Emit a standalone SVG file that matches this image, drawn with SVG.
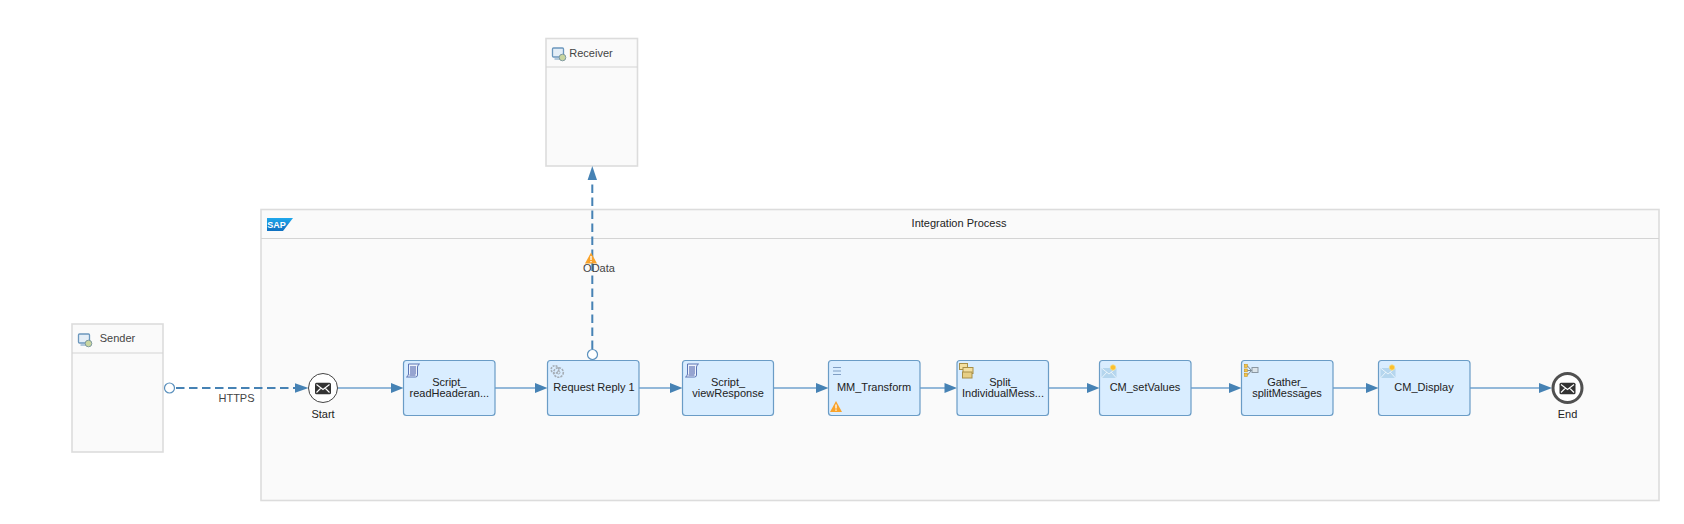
<svg xmlns="http://www.w3.org/2000/svg" width="1684" height="524" viewBox="0 0 1684 524">
<style>
text{font-family:"Liberation Sans",Arial,sans-serif;font-size:11px;fill:#222;text-anchor:middle}
.pool{fill:#fafafa;stroke:#dcdcdc;stroke-width:1.6}
.hdr{stroke:#d4d4d4;stroke-width:1.2;fill:none}
.task{fill:#d9edff;stroke:#6a9cc6;stroke-width:1.2}
.flow{stroke:#93b8d9;stroke-width:1.8;fill:none}
.msg{stroke:#4682b4;stroke-width:2;stroke-dasharray:8.500 4.500;fill:none}
.head{fill:#4682b4}
.port{fill:#fff;stroke:#5a90bd;stroke-width:1.200}
.lbl{fill:#444}
.warnt{fill:#f9a32b}
</style>
<defs>
<linearGradient id="sapg" x1="0" y1="0" x2="0" y2="1"><stop offset="0" stop-color="#1fa8ec"/><stop offset="1" stop-color="#0f6fc0"/></linearGradient>
<g id="sys"><rect x="0" y="0" width="11" height="9" rx="1" fill="#e4eef7" stroke="#6b97bd" stroke-width="1.300"/><path d="M2 11h6" stroke="#6b97bd" stroke-width="1"/><circle cx="10" cy="9.500" r="3.300" fill="#c9d6a0" stroke="#7f9a9f"/></g>
<g id="scroll"><path d="M3 1h11q-2 1-2 3v8q0 2-2 2H1q2-1 2-3z" fill="#eef3fb" stroke="#5b74b5"/><path d="M4.500 4h6M4.500 6h6M4.500 8h6M4.500 10h6M4 12h6" stroke="#3e55a5" stroke-width="1"/></g>
<g id="cm"><rect x="0" y="4" width="15" height="10" fill="#b5d6ee"/><path d="M0 4l7.500 6 7.500-6M0 14l5.500-6M15 14l-5.500-6" stroke="#e9f4fb" stroke-width="1" fill="none"/><circle cx="11.500" cy="3.500" r="2.700" fill="#fbc02d" stroke="#f5e08a" stroke-width=".8"/></g>
<g id="warn"><path d="M6 0l6 11H0z" class="warnt"/><path d="M6 3.500v4M6 8.500v1.300" stroke="#fff" stroke-width="1.300"/></g>
<g id="mail"><rect x="-8" y="-5.700" width="16" height="11.400" rx="1.500" fill="#333"/><path d="M-6.500-4L0 1 6.500-4M-6.500 4l4.500-4.500M6.500 4L2-.5" stroke="#fff" stroke-width="1.100" fill="none"/></g>
</defs>

<g id="process"><rect class="pool" x="261" y="209.500" width="1398" height="291"/><path class="hdr" d="M261 238.500H1659"/>
<path d="M267 218h26l-10 13h-16z" fill="url(#sapg)"/><text x="276.500" y="228.300" style="font-size:9px;font-weight:bold;fill:#fff">SAP</text>
<text x="959" y="227">Integration Process</text></g>

<g id="sender"><rect class="pool" x="72" y="324" width="91" height="128"/><path class="hdr" d="M72 353H163"/><use href="#sys" x="78.500" y="334"/><text x="117.500" y="342" class="lbl">Sender</text></g>
<g id="receiver"><rect class="pool" x="546" y="38.500" width="91.500" height="127.500"/><path class="hdr" d="M546 67H637.500"/><use href="#sys" x="552.500" y="48"/><text x="591" y="57" class="lbl">Receiver</text></g>

<g id="connectors">
<path class="msg" d="M176 388H296"/><path class="head" d="M295 383.300L308.500 388 295 392.700z"/>
<path class="msg" d="M592.300 349V180"/><path class="head" d="M592.300 166l4.700 14h-9.400z"/>
<path class="flow" d="M338 388H392M495 388H536M639 388H671M774 388H816M920 388H945M1049 388H1087M1191 388H1229M1333 388H1366M1470 388H1540"/>
<path class="head" d="M391 383L403.500 388 391 393zM535 383L547.500 388 535 393zM670 383L682.500 388 670 393zM816 383L828.500 388 816 393zM944.500 383L957 388 944.500 393zM1087 383L1099.500 388 1087 393zM1229 383L1241.500 388 1229 393zM1366 383L1378.500 388 1366 393zM1539 383L1552 388 1539 393z"/>
<circle class="port" cx="169.500" cy="388" r="5"/><circle class="port" cx="592.500" cy="354.500" r="5"/>
<use href="#warn" x="585" y="252.500"/>
<text x="599" y="272" class="lbl">OData</text>
<text x="236.500" y="402" class="lbl">HTTPS</text>
</g>

<g id="start"><circle cx="323" cy="388" r="14.500" fill="#fff" stroke="#444" stroke-width="1"/><use href="#mail" x="323" y="388.500"/><text x="323" y="418">Start</text></g>
<g id="script1"><rect class="task" x="403.500" y="360.500" width="91.500" height="55" rx="3"/><use href="#scroll" x="405.500" y="363"/><text x="449.300" y="385.500">Script_</text><text x="449.300" y="396.500">readHeaderan...</text></g>
<g id="reqreply"><rect class="task" x="547.500" y="360.500" width="91.500" height="55" rx="3"/><g fill="none" stroke="#a5adb5" stroke-width="1.600"><circle cx="555" cy="369.500" r="3.800" stroke-dasharray="2 1"/><circle cx="558.500" cy="372.500" r="4.800" stroke-dasharray="2.200 1"/></g><circle cx="558.500" cy="372.500" r="1.500" fill="none" stroke="#a5adb5"/><text x="594" y="391">Request Reply 1</text></g>
<g id="script2"><rect class="task" x="682.500" y="360.500" width="91" height="55" rx="3"/><use href="#scroll" x="684.500" y="363"/><text x="728" y="385.500">Script_</text><text x="728" y="396.500">viewResponse</text></g>
<g id="mm"><rect class="task" x="828.500" y="360.500" width="91.500" height="55" rx="3"/><path d="M833 367.500h8M833 371h8M833 374.500h8" stroke="#7f9ec4" stroke-width="1.200"/><use href="#warn" x="830" y="401"/><text x="874" y="391">MM_Transform</text></g>
<g id="split"><rect class="task" x="957" y="360.500" width="91.500" height="55" rx="3"/><rect x="959.500" y="363.500" width="8" height="6" fill="#f3dfa0" stroke="#a78f48"/><rect x="963" y="367.500" width="10" height="6" fill="#f3dfa0" stroke="#a78f48"/><rect x="962.500" y="372" width="9.500" height="6" fill="#e7cf85" stroke="#a78f48"/><text x="1003" y="385.500">Split_</text><text x="1003" y="396.500">IndividualMess...</text></g>
<g id="cmset"><rect class="task" x="1099.500" y="360.500" width="91.500" height="55" rx="3"/><use href="#cm" x="1101.500" y="364"/><text x="1145" y="391">CM_setValues</text></g>
<g id="gather"><rect class="task" x="1241.500" y="360.500" width="91.500" height="55" rx="3"/><g fill="#f7c542" stroke="#c6931d" stroke-width=".6"><rect x="1244.500" y="364.500" width="2.800" height="2.800"/><rect x="1244.500" y="369" width="2.800" height="2.800"/><rect x="1244.500" y="373.500" width="2.800" height="2.800"/></g><path d="M1247.500 366l4 4.500-4 4.500M1247.500 370.500h4.500" stroke="#7d8a94" fill="none"/><rect x="1252" y="367.500" width="6" height="5" fill="#dbe4ea" stroke="#8a97a2"/><text x="1287" y="385.500">Gather_</text><text x="1287" y="396.500">splitMessages</text></g>
<g id="cmdisplay"><rect class="task" x="1378.500" y="360.500" width="91.500" height="55" rx="3"/><use href="#cm" x="1380.500" y="364"/><text x="1424" y="391">CM_Display</text></g>
<g id="end"><circle cx="1567.500" cy="388" r="14.500" fill="#fff" stroke="#505050" stroke-width="3"/><use href="#mail" x="1567.500" y="388.500"/><text x="1567.500" y="418">End</text></g>
</svg>
